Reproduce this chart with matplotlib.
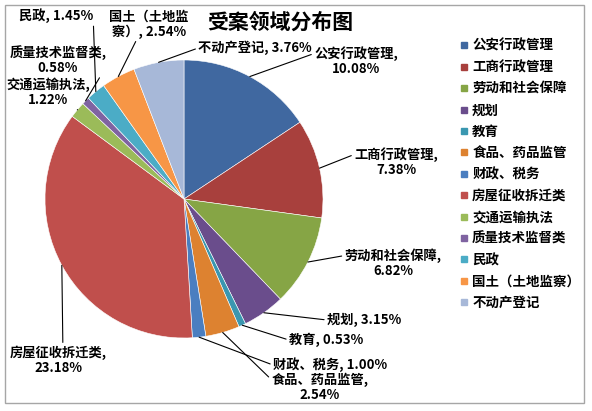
import matplotlib
matplotlib.use("Agg")
import matplotlib.pyplot as plt
import numpy as np
from matplotlib.lines import Line2D
from matplotlib.patches import Rectangle

plt.rcParams['font.family'] = ['Noto Sans CJK SC', 'DejaVu Sans']

categories = ['公安行政管理', '工商行政管理', '劳动和社会保障', '规划', '教育',
              '食品、药品监管', '财政、税务', '房屋征收拆迁类', '交通运输执法',
              '质量技术监督类', '民政', '国土（土地监察）', '不动产登记']
values = [10.08, 7.38, 6.82, 3.15, 0.53, 2.54, 1.00, 23.18, 1.22, 0.58, 1.45, 2.54, 3.76]
label_texts = ['公安行政管理,\n10.08%', '工商行政管理,\n7.38%', '劳动和社会保障,\n6.82%',
               '规划, 3.15%', '教育, 0.53%', '食品、药品监管,\n2.54%', '财政、税务, 1.00%',
               '房屋征收拆迁类,\n23.18%', '交通运输执法,\n1.22%', '质量技术监督类,\n0.58%',
               '民政, 1.45%', '国土（土地监\n察）, 2.54%', '不动产登记, 3.76%']
colors = ['#4068A0', '#A8403D', '#86A545', '#6A4D8C', '#3A97B0', '#DD8230', '#4A7EC0',
          '#C04F4C', '#9BBB59', '#7F63A1', '#4BACC6', '#F79646', '#A7B8D8']
title = '受案领域分布图'

W, H = 592, 411
fig = plt.figure(figsize=(W / 100, H / 100), dpi=100)

cx, cy, r = 184, 199, 139
ax = fig.add_axes([(cx - r) / W, (H - cy - r) / H, 2 * r / W, 2 * r / H])
wedges, _ = ax.pie(values, colors=colors, startangle=90, counterclock=False,
                   radius=1.0, wedgeprops=dict(edgecolor='white', linewidth=0.4))
ax.set_xlim(-1, 1)
ax.set_ylim(-1, 1)
ax.set_aspect('equal')
ax.axis('off')

# label placements (figure pixel coords from top-left), relpos of leader start
placements = [
    ((356, 61), (0.0, 0.75)),
    ((396, 162), (0.0, 0.75)),
    ((393, 263), (0.0, 0.75)),
    ((364, 320), (0.0, 0.5)),
    ((326, 340), (0.0, 0.5)),
    ((320, 387), (0.0, 0.75)),
    ((330, 365), (0.0, 0.5)),
    ((58, 360), (0.55, 1.0)),
    ((48, 92), (1.0, 0.75)),
    ((58, 60), (1.0, 0.3)),
    ((56, 16), (1.0, 0.5)),
    ((149, 24), (0.35, 0.0)),
    ((255, 48), (0.0, 0.5)),
]

for w, txt, ((px, py), rel) in zip(wedges, label_texts, placements):
    ang = np.deg2rad((w.theta1 + w.theta2) / 2)
    ex, ey = np.cos(ang), np.sin(ang)
    ax.annotate(txt, xy=(ex, ey), xycoords='data',
                xytext=(px / W, 1 - py / H), textcoords='figure fraction',
                ha='center', va='center', fontsize=9.5, fontweight='bold',
                linespacing=1.1, annotation_clip=False,
                arrowprops=dict(arrowstyle='-', color='black', lw=0.8,
                                relpos=rel, shrinkA=0, shrinkB=0))

fig.text(280 / W, 1 - 22 / H, title, ha='center', va='center',
         fontsize=15, fontweight='bold')

handles = [Line2D([], [], marker='s', linestyle='none', markersize=5,
                  markerfacecolor=c, markeredgecolor=c) for c in colors]
fig.legend(handles, categories, loc='upper left',
           bbox_to_anchor=(460 / W, 1 - 39 / H), frameon=False,
           prop=dict(size=9.7, weight='bold'), labelspacing=0.55,
           handlelength=0.6, handletextpad=0.3, borderaxespad=0, borderpad=0)

fig.patches.append(Rectangle((5 / W, 1 - 403 / H), 579 / W, 398 / H,
                             transform=fig.transFigure, fill=False,
                             edgecolor='#A6A6A6', linewidth=1.0))

fig.savefig('out.png', dpi=100, facecolor='white')
